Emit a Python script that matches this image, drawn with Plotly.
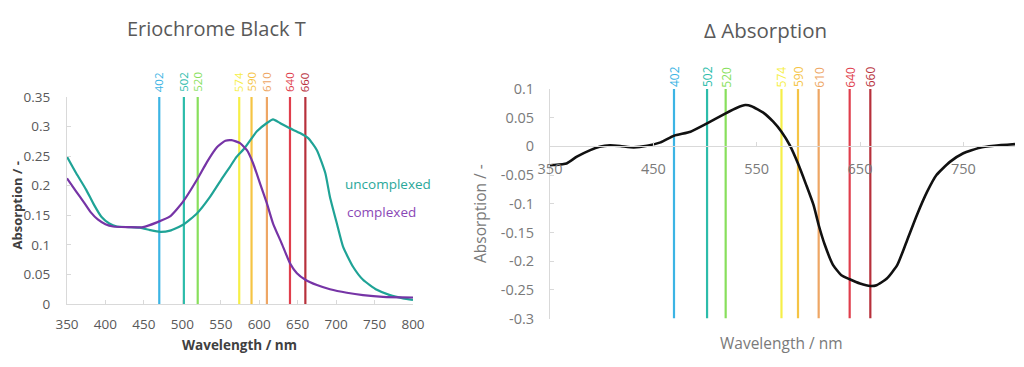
import plotly.graph_objects as go

# ---------------- data ----------------
wl_uncomplexed = [350, 362, 375, 385, 395, 405, 415, 430, 445, 458, 471, 484, 501, 519, 536, 553, 562, 570, 580,
                  597, 610, 618, 627, 640, 653, 664, 675, 686, 692, 701, 709, 722, 735, 753, 770, 787, 800]
abs_uncomplexed = [0.249, 0.221, 0.193, 0.168, 0.147, 0.136, 0.131, 0.130, 0.129, 0.125, 0.122, 0.124, 0.134,
                   0.153, 0.181, 0.215, 0.232, 0.248, 0.262, 0.292, 0.306, 0.312, 0.306, 0.297, 0.289, 0.280,
                   0.260, 0.221, 0.181, 0.136, 0.097, 0.063, 0.041, 0.024, 0.015, 0.0096, 0.007]

wl_complexed = [350, 362, 372, 381, 390, 400, 410, 428, 449, 467, 484, 501, 519, 532, 545, 556, 564, 575, 584,
                592, 601, 610, 618, 629, 640, 649, 660, 675, 692, 714, 735, 761, 800]
abs_complexed = [0.2125, 0.190, 0.172, 0.155, 0.143, 0.135, 0.131, 0.130, 0.130, 0.138, 0.148, 0.173, 0.210,
                 0.240, 0.265, 0.276, 0.277, 0.272, 0.260, 0.238, 0.204, 0.170, 0.136, 0.103, 0.069, 0.052,
                 0.041, 0.032, 0.025, 0.019, 0.015, 0.012, 0.011]

wl_delta = [350, 353, 366, 376, 389, 398, 408, 418, 431, 444, 457, 470, 486, 502, 520, 531, 539, 545, 557,
            566, 574, 582, 590, 598, 605, 610, 616, 624, 632, 640, 650, 660, 666, 676, 686, 695, 705, 715,
            724, 737, 750, 766, 780, 800]
delta_abs = [-0.033, -0.0326, -0.0297, -0.018, -0.0065, -0.0007, 0.0017, 0.0006, -0.0017, 0.001, 0.007,
             0.0185, 0.0255, 0.040, 0.0576, 0.0674, 0.072, 0.070, 0.058, 0.043, 0.0255, 0.002, -0.030,
             -0.0675, -0.102, -0.137, -0.172, -0.207, -0.2246, -0.2316, -0.239, -0.2433, -0.242, -0.2304,
             -0.207, -0.1665, -0.120, -0.079, -0.050, -0.027, -0.012, -0.0024, 0.001, 0.004]

marker_pos = [470, 502, 520, 574, 590, 610, 640, 660]
marker_labels = ["402", "502", "520", "574", "590", "610", "640", "660"]
marker_colors = ["#3cb4e4", "#2cbcaa", "#88df5c", "#f6ef48", "#f5c444", "#eea664", "#e03e4c", "#b7303b"]

left_xticks = [350, 400, 450, 500, 550, 600, 650, 700, 750, 800]
left_yticks = [0, 0.05, 0.1, 0.15, 0.2, 0.25, 0.3, 0.35]
left_yticktext = ["0", "0.05", "0.1", "0.15", "0.2", "0.25", "0.3", "0.35"]
right_xticks = [350, 450, 550, 650, 750]
right_yticks = [0.1, 0.05, 0, -0.05, -0.1, -0.15, -0.2, -0.25, -0.3]
right_yticktext = ["0.1", "0.05", "0", "-0.05", "-0.1", "-0.15", "-0.2", "-0.25", "-0.3"]

FONT = "Open Sans"
W, H = 1024, 367
OFF = 8  # page offset of the plot div


def px(p):
    return (p - OFF) / W


def py(p):
    return 1 - (p - OFF) / H


fig = go.Figure()

# ---- left chart vertical markers ----
for p, c in zip(marker_pos, marker_colors):
    fig.add_trace(go.Scatter(x=[p, p], y=[0, 0.35], mode="lines", line=dict(color=c, width=2.2),
                             xaxis="x", yaxis="y", showlegend=False, hoverinfo="skip"))
fig.add_trace(go.Scatter(x=wl_uncomplexed, y=abs_uncomplexed, mode="lines",
                         line=dict(color="#1fa396", width=2.2, shape="spline", smoothing=0.5),
                         xaxis="x", yaxis="y", showlegend=False))
fig.add_trace(go.Scatter(x=wl_complexed, y=abs_complexed, mode="lines",
                         line=dict(color="#7634a6", width=2.2, shape="spline", smoothing=0.5),
                         xaxis="x", yaxis="y", showlegend=False))

# ---- right chart vertical markers ----
for p, c in zip(marker_pos, marker_colors):
    fig.add_trace(go.Scatter(x=[p, p], y=[-0.3, 0.1], mode="lines", line=dict(color=c, width=2.2),
                             xaxis="x2", yaxis="y2", showlegend=False, hoverinfo="skip"))
fig.add_trace(go.Scatter(x=wl_delta, y=delta_abs, mode="lines",
                         line=dict(color="#111111", width=2.6, shape="spline", smoothing=0.5),
                         xaxis="x2", yaxis="y2", showlegend=False))

# domains (pixel based)
lx0, lx1 = px(67), px(413)
ly0, ly1 = py(304), py(97)
rx0, rx1 = px(550), px(1015)
ry0, ry1 = py(318.5), py(89)
zero_pos = ry0 + (0 - (-0.3)) / 0.4 * (ry1 - ry0)

axis_common = dict(showgrid=False, zeroline=False, showline=True, linecolor="#d9d9d9", linewidth=1,
                   ticks="inside", ticklen=4, tickcolor="#d9d9d9", automargin=False)

fig.update_layout(
    width=W, height=H, margin=dict(l=0, r=0, t=0, b=0, autoexpand=False),
    paper_bgcolor="white", plot_bgcolor="white",
    font=dict(family=FONT, color="#595959"),
    xaxis=dict(domain=[lx0, lx1], range=[350, 800], tickvals=left_xticks, anchor="y",
               tickfont=dict(size=13.5, color="#595959"), ticklabelstandoff=8, **axis_common),
    yaxis=dict(domain=[ly0, ly1], range=[0, 0.35], tickvals=left_yticks, ticktext=left_yticktext, anchor="x",
               tickfont=dict(size=13.5, color="#595959"), ticklabelstandoff=13, **axis_common),
    xaxis2=dict(domain=[rx0, rx1], range=[350, 800], tickvals=right_xticks, anchor="free", position=zero_pos,
                tickfont=dict(size=14.5, color="#7a7a7a"), ticklabelstandoff=9, **axis_common),
    yaxis2=dict(domain=[ry0, ry1], range=[-0.3, 0.1], tickvals=right_yticks, ticktext=right_yticktext, anchor="x2",
                tickfont=dict(size=14.5, color="#7a7a7a"), ticklabelstandoff=12, **axis_common),
)


def note(text, x, y, size, color, angle=0, xanchor="center", xref="paper"):
    return dict(text=text, x=x, y=y, xref=xref, yref="paper", xanchor=xanchor, yanchor="middle",
                textangle=angle, showarrow=False, font=dict(size=size, color=color, family=FONT))


ann = []
ann.append(note("Eriochrome Black T", px(216), py(29), 20, "#595959"))
ann.append(note("Δ Absorption", px(765), py(30), 20.5, "#595959"))
ann.append(note("<b>Wavelength / nm</b>", px(239), py(345), 13.5, "#404040"))
ann.append(note("<b>Absorption / -</b>", px(16.5), py(206), 13, "#404040", angle=-90))
ann.append(note("Wavelength / nm", px(781), py(343), 15.5, "#7a7a7a"))
ann.append(note("Absorption / -", px(480), py(214), 15.5, "#7a7a7a", angle=-90))
ann.append(note("uncomplexed", px(343), py(184), 13.5, "#2aa89a", xanchor="left"))
ann.append(note("complexed", px(345), py(212), 13.5, "#8a48b6", xanchor="left"))
for p, t, c in zip(marker_pos, marker_labels, marker_colors):
    ann.append(note(t, p, py(82), 11.5, c, angle=-90, xref="x"))
    ann.append(note(t, p, py(77), 12, c, angle=-90, xref="x2"))
fig.update_layout(annotations=ann)

fig.write_html("out.html")
